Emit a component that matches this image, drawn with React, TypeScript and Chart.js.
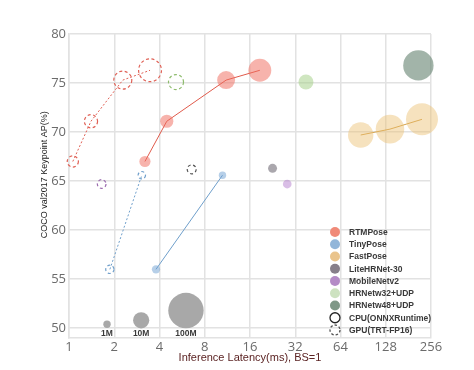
import { useEffect, useRef } from 'react';
import { Chart, registerables } from 'chart.js';
Chart.register(...registerables);

const xTicks = [1, 2, 4, 8, 16, 32, 64, 128, 256];
const yTicks = [50, 55, 60, 65, 70, 75, 80];

const rtmCpuLatency = [3.2, 4.47, 11.1, 18.6];
const rtmCpuAP = [67.0, 71.1, 75.3, 76.3];
const rtmGpuLatency = [1.06, 1.4, 2.28, 3.46];
const rtmGpuAP = [67.0, 71.1, 75.3, 76.3];
const rtmParams = [3.34, 5.47, 13.59, 27.66];

const tinyCpuLatency = [3.79, 10.5];
const tinyCpuAP = [56.0, 65.6];
const tinyGpuLatency = [1.87, 3.05];
const tinyGpuAP = [56.0, 65.6];
const tinyParams = [1.4, 1.0];

const fastCpuLatency = [87.2, 136.6, 223];
const fastCpuAP = [69.7, 70.3, 71.3];
const fastParams = [37.5, 53, 74];

const liteCpuLatency = [22.6];
const liteCpuAP = [66.3];
const liteGpuLatency = [6.55];
const liteGpuAP = [66.2];
const liteParams = [1.76];

const mobileCpuLatency = [28.3];
const mobileCpuAP = [64.7];
const mobileGpuLatency = [1.65];
const mobileGpuAP = [64.7];
const mobileParams = [1.6];

const hr32CpuLatency = [37.7];
const hr32CpuAP = [75.1];
const hr32GpuLatency = [5.15];
const hr32GpuAP = [75.1];
const hr32Params = [8];

const hr48CpuLatency = [211];
const hr48CpuAP = [76.8];
const hr48Params = [63.6];

const sizeLatency = [1.79, 3.02, 6.0];
const sizeAP = [50.4, 50.8, 51.8];
const sizeParams = [1, 10, 100];
const sizeLabels = ['1M', '10M', '100M'];

const legendLabels = ['RTMPose', 'TinyPose', 'FastPose', 'LiteHRNet-30', 'MobileNetv2', 'HRNetw32+UDP', 'HRNetw48+UDP', 'CPU(ONNXRuntime)', 'GPU(TRT-FP16)'];
const legendColors = ['#f08a78', '#92b6d9', '#eac48c', '#877f8a', '#b48bc6', '#cde2c0', '#7f9887', '', ''];

export default function App() {
  const ref = useRef<HTMLCanvasElement>(null);
  useEffect(() => {
    document.body.style.margin = '0';
    const rad = (p: number) => 3.7 * Math.pow(p, 0.34);
    const pts = (xs: number[], ys: number[]) => xs.map((x, i) => ({ x, y: ys[i] }));
    const mk = (label: string, xs: number[], ys: number[], params: number[], opts: any) => ({
      label,
      data: pts(xs, ys),
      pointRadius: params.map(rad),
      pointHoverRadius: params.map(rad),
      clip: false,
      showLine: false,
      ...opts,
    });
    const filled = (fill: string, line?: string) => ({
      backgroundColor: fill,
      pointBackgroundColor: fill,
      pointBorderWidth: 0,
      pointBorderColor: 'rgba(0,0,0,0)',
      borderColor: line || fill,
      borderWidth: 1,
      showLine: !!line,
    });
    const dashed = (stroke: string, line?: boolean) => ({
      backgroundColor: 'rgba(0,0,0,0)',
      pointBackgroundColor: 'rgba(0,0,0,0)',
      pointBorderWidth: 1.2,
      pointBorderColor: stroke,
      borderColor: stroke,
      borderWidth: 1,
      borderDash: [2, 2],
      showLine: !!line,
      dashedPoints: true,
    });

    const datasets: any[] = [
      mk('RTMPose CPU', rtmCpuLatency, rtmCpuAP, rtmParams, filled('rgba(240,110,95,0.52)', '#e05a4b')),
      mk('RTMPose GPU', rtmGpuLatency, rtmGpuAP, rtmParams, dashed('#e06055', true)),
      mk('TinyPose CPU', tinyCpuLatency, tinyCpuAP, tinyParams, filled('rgba(110,160,210,0.5)', '#6f9fcb')),
      mk('TinyPose GPU', tinyGpuLatency, tinyGpuAP, tinyParams, dashed('#6f9fcb', true)),
      mk('FastPose CPU', fastCpuLatency, fastCpuAP, fastParams, filled('rgba(235,190,110,0.45)', '#d4a24c')),
      mk('LiteHRNet-30 CPU', liteCpuLatency, liteCpuAP, liteParams, filled('rgba(100,95,105,0.55)')),
      mk('LiteHRNet-30 GPU', liteGpuLatency, liteGpuAP, liteParams, dashed('#555555')),
      mk('MobileNetv2 CPU', mobileCpuLatency, mobileCpuAP, mobileParams, filled('rgba(170,110,200,0.45)')),
      mk('MobileNetv2 GPU', mobileGpuLatency, mobileGpuAP, mobileParams, dashed('#9a6aae')),
      mk('HRNetw32+UDP CPU', hr32CpuLatency, hr32CpuAP, hr32Params, filled('rgba(160,205,130,0.5)')),
      mk('HRNetw32+UDP GPU', hr32GpuLatency, hr32GpuAP, hr32Params, dashed('#8dbb6c')),
      mk('HRNetw48+UDP CPU', hr48CpuLatency, hr48CpuAP, hr48Params, filled('rgba(100,130,112,0.6)')),
      mk('size', sizeLatency, sizeAP, sizeParams, filled('#a8a8a8')),
    ];

    const dashPlugin = {
      id: 'dashPts',
      beforeDatasetDraw(chart: any, args: any) {
        const ds = chart.data.datasets[args.index];
        if (ds.dashedPoints) {
          chart.ctx.save();
          chart.ctx.setLineDash([3, 2.5]);
        }
      },
      afterDatasetDraw(chart: any, args: any) {
        const ds = chart.data.datasets[args.index];
        if (ds.dashedPoints) chart.ctx.restore();
      },
    };

    const overlayPlugin = {
      id: 'overlay',
      afterDatasetsDraw(chart: any) {
        const ctx = chart.ctx;
        const area = chart.chartArea;
        const xs = chart.scales.x;
        ctx.save();
        ctx.fillStyle = '#3a3a3a';
        ctx.font = 'bold 8.5px "Liberation Sans", Arial, sans-serif';
        ctx.textAlign = 'center';
        ctx.textBaseline = 'middle';
        sizeLabels.forEach((t, i) => {
          ctx.fillText(t, xs.getPixelForValue(sizeLatency[i]), area.bottom - 4);
        });
        const dotX = area.right - 96;
        const textX = area.right - 82;
        const y0 = area.bottom - 106;
        const step = 12.25;
        ctx.textAlign = 'left';
        legendLabels.forEach((t, i) => {
          const y = y0 + i * step;
          ctx.beginPath();
          ctx.arc(dotX, y, 5, 0, Math.PI * 2);
          if (legendColors[i]) {
            ctx.fillStyle = legendColors[i];
            ctx.fill();
          } else {
            ctx.lineWidth = 1.3;
            ctx.strokeStyle = i === 7 ? '#222' : '#555';
            ctx.setLineDash(i === 7 ? [] : [2.5, 2]);
            ctx.stroke();
            ctx.setLineDash([]);
          }
          ctx.fillStyle = '#3a3a3a';
          ctx.fillText(t, textX, y + 0.5);
        });
        ctx.restore();
      },
    };

    const gridColor = '#e2e2e2';
    const chart = new Chart(ref.current as HTMLCanvasElement, {
      type: 'scatter',
      data: { datasets },
      plugins: [dashPlugin, overlayPlugin],
      options: {
        animation: false,
        responsive: false,
        events: [],
        layout: { padding: { left: 0, top: 34, right: 43, bottom: 0 } },
        plugins: { legend: { display: false }, tooltip: { enabled: false } },
        scales: {
          x: {
            type: 'logarithmic',
            min: 1,
            max: 256,
            afterBuildTicks: (s: any) => { s.ticks = xTicks.map((v) => ({ value: v })); },
            afterFit: (s: any) => { s.height = 32; },
            ticks: {
              callback: (v: any) => String(v),
              color: '#6b6b6b',
              font: { family: '"Open Sans", sans-serif', size: 13 },
              padding: 1,
              maxRotation: 0,
              autoSkip: false,
            },
            grid: { color: gridColor, lineWidth: 1.5, drawTicks: false },
            border: { color: gridColor, width: 1.5 },
            title: {
              display: true,
              text: 'Inference Latency(ms), BS=1',
              color: '#5b2323',
              font: { family: '"Liberation Sans", Arial, sans-serif', size: 11 },
              padding: { top: 0, bottom: 5 },
            },
          },
          y: {
            type: 'linear',
            min: 49,
            max: 80,
            afterBuildTicks: (s: any) => { s.ticks = yTicks.map((v) => ({ value: v })); },
            afterFit: (s: any) => { s.width = 69; },
            ticks: {
              color: '#6b6b6b',
              font: { family: '"Open Sans", sans-serif', size: 13 },
              padding: 3,
            },
            grid: { color: gridColor, lineWidth: 1.5, drawTicks: false },
            border: { color: gridColor, width: 1.5 },
            title: {
              display: true,
              text: '         COCO val2017 Keypoint AP(%)',
              color: '#222',
              font: { family: '"Liberation Sans", Arial, sans-serif', size: 9 },
              padding: { top: 39, bottom: 0 },
            },
          },
        },
      },
    } as any);
    return () => chart.destroy();
  }, []);
  return <canvas ref={ref} width={474} height={370} style={{ display: 'block' }} />;
}
